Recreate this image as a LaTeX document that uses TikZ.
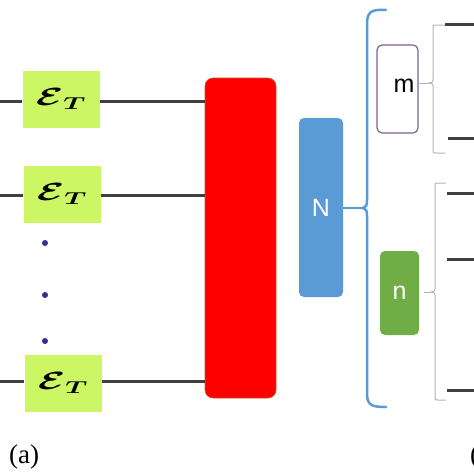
\documentclass[tikz,border=0pt]{standalone}
\usepackage{fontspec}
\usepackage{amsmath}
\usepackage{bm}
\usepackage{graphicx}
\newfontfamily\lsans{Liberation Sans}
\newfontfamily\lserif{Liberation Serif}
\definecolor{epsfill}{RGB}{204,246,100}
\definecolor{linegray}{RGB}{64,64,64}
\definecolor{nblue}{RGB}{91,155,213}
\definecolor{ngreen}{RGB}{112,173,71}
\definecolor{mpurple}{RGB}{128,96,150}
\definecolor{brgray}{RGB}{175,180,185}
\definecolor{dotblue}{RGB}{50,50,140}
\definecolor{redborder}{RGB}{190,90,40}
\newcommand{\epsT}{\scalebox{1.6}[1]{\fontsize{24}{28}\selectfont$\bm{\mathcal{E}}_{\bm{T}}$}}
\tikzset{
  epsbox/.style={fill=epsfill,minimum width=77pt,minimum height=57pt,inner sep=0pt},
  wire/.style={draw=linegray,line width=3pt},
  bluebrace/.style={draw=nblue,line width=2.5pt,line cap=round},
  graybrace/.style={draw=brgray,line width=1pt},
  dotnode/.style={circle,fill=dotblue,minimum size=6pt,inner sep=0pt},
  lbl/.style={font=\lsans\fontsize{25}{28}\selectfont},
  caplbl/.style={font=\lserif\fontsize{27}{30}\selectfont,anchor=west,inner sep=0pt}
}
\begin{document}
\begin{tikzpicture}[x=1pt,y=-1pt]
\useasboundingbox (0,0) rectangle (474,474);
% epsilon boxes
\node[epsbox] (e1) at (61,99) {\epsT};
\node[epsbox] (e2) at (62,194) {\epsT};
\node[epsbox] (e3) at (63,383) {\epsT};
% red box
\node[fill=red,draw=redborder,line width=0.6pt,rounded corners=8pt,minimum width=71pt,minimum height=320pt] (R) at (240.5,238) {};
% left wires
\coordinate (l1) at (-5,101);
\coordinate (l2) at (-5,195);
\coordinate (l3) at (-5,381);
\draw[wire] (l1) -- (e1.west |- l1);
\draw[wire] (l2) -- (e2.west |- l2);
\draw[wire] (l3) -- (e3.west |- l3);
\draw[wire] (e1.east |- l1) -- (R.west |- l1);
\draw[wire] (e2.east |- l2) -- (R.west |- l2);
\draw[wire] (e3.east |- l3) -- (R.west |- l3);
% dots
\node[dotnode] (d1) at (45,243) {};
\node[dotnode] (d2) at (45,295) {};
\node[dotnode] (d3) at (45,341) {};
% N box
\node[fill=nblue,rounded corners=5pt,minimum width=44pt,minimum height=179pt,inner sep=0pt,text=white,lbl] (N) at (321,207.5) {N};
% big blue brace
\coordinate (btip) at (363,208);
\draw[bluebrace] (386,10) .. controls (371,9) and (367,12) .. (367,24) -- (367,200) .. controls (367,206) and (366,207) .. (btip) .. controls (366,209) and (367,210) .. (367,216) -- (367,393) .. controls (367,405) and (371,407) .. (386,407);
\draw[draw=nblue,line width=2.5pt] (N.east |- btip) -- (btip);
% m box
\node[draw=mpurple,line width=1.2pt,fill=white,rounded corners=5pt,minimum width=41pt,minimum height=88pt,inner sep=0pt] (m) at (397.5,89) {};
\node[lbl,inner sep=0pt] (mt) at (404,86) {m};
% n box
\node[fill=ngreen,rounded corners=5pt,minimum width=39pt,minimum height=84pt,inner sep=0pt,text=white,lbl] (n) at (399.5,293) {n};
% gray brace for m
\coordinate (mtip) at (429,83);
\draw[graybrace] (445,25) -- (436,25) .. controls (433,25) .. (433,28) -- (433,80) .. controls (433,82) .. (mtip) .. controls (433,84) .. (433,86) -- (433,150) .. controls (433,153) .. (436,153) -- (445,153);
\draw[graybrace] (m.east |- mtip) -- (mtip);
% gray brace for n
\coordinate (ntip) at (431,292);
\draw[graybrace] (446,183) -- (438,183) .. controls (435,183) .. (435,186) -- (435,289) .. controls (435,291) .. (ntip) .. controls (435,293) .. (435,295) -- (435,397) .. controls (435,400) .. (438,400) -- (446,400);
\draw[graybrace] ([xshift=5pt]n.east |- ntip) -- (ntip);
% right wires
\coordinate (r1) at (445,24);
\coordinate (r2) at (448,138);
\coordinate (r3) at (447,193);
\coordinate (r4) at (447,259);
\coordinate (r5) at (447,390);
\coordinate (re1) at (480,24);
\coordinate (re2) at (480,138);
\coordinate (re3) at (480,193);
\coordinate (re4) at (480,259);
\coordinate (re5) at (480,390);
\draw[wire] (r1) -- (re1);
\draw[wire] (r2) -- (re2);
\draw[wire] (r3) -- (re3);
\draw[wire] (r4) -- (re4);
\draw[wire] (r5) -- (re5);
% labels
\node[caplbl] (la) at (9,457) {(a)};
\node[caplbl] (lb) at (470,457) {(b)};
\end{tikzpicture}
\end{document}
